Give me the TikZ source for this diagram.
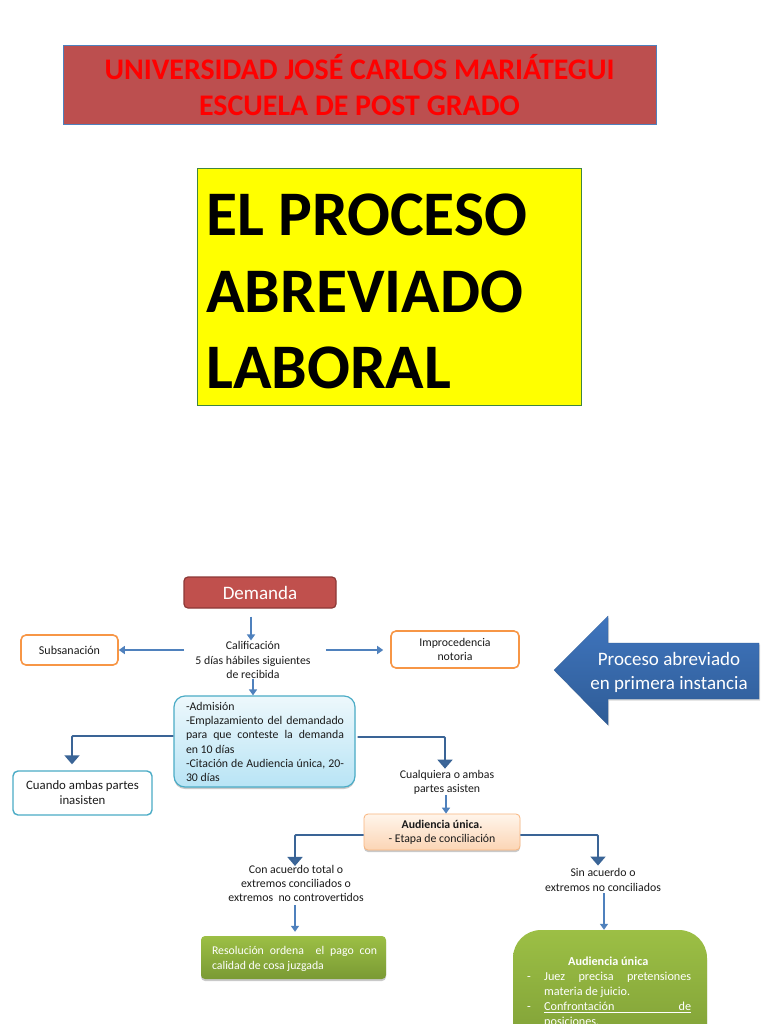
\documentclass[tikz,border=0pt]{standalone}
\usepackage{fontspec}
\setmainfont{Carlito}
\usetikzlibrary{arrows.meta,shadows}
\definecolor{linkblue}{HTML}{4F81BD}
\definecolor{darkblue}{HTML}{3A6496}
\definecolor{bred}{HTML}{C0504D}
\definecolor{tred}{HTML}{BC4F4F}
\definecolor{dred}{HTML}{8C3836}
\definecolor{ora}{HTML}{F79646}
\definecolor{aqua}{HTML}{4BACC6}
\definecolor{txt}{HTML}{1A1A1A}
\definecolor{gtop}{HTML}{9CBF45}
\definecolor{gbot}{HTML}{7A9A34}
\definecolor{pureyellow}{HTML}{FFFF00}
\definecolor{purered}{HTML}{FF0000}
\definecolor{arrtop}{HTML}{3F75BE}
\definecolor{arrbot}{HTML}{2F5C96}
\definecolor{admtop}{HTML}{EDF8FC}
\definecolor{admbot}{HTML}{B8E4F5}
\tikzset{
  x=1pt,y=-1pt,
  plain/.style={inner sep=0pt,align=center,text=txt,font=\fontsize{11.8}{14.2}\selectfont},
  shad/.style={drop shadow={shadow xshift=0pt,shadow yshift=-2pt,opacity=.35,fill=black!60}},
  orabox/.style={plain,draw=ora,line width=1.6pt,rounded corners=5pt,fill=white},
  aquabox/.style={plain,draw=aqua,line width=1.4pt,rounded corners=5pt,fill=white},
  conn/.style={draw=linkblue,line width=2.4pt,-{Triangle[width=8pt,length=6pt]}},
  elbow/.style={draw=darkblue,line width=1.8pt,rounded corners=1pt,-{Triangle[width=15pt,length=9pt,fill=darkblue!90!linkblue]}},
  greenbox/.style={draw=none,top color=gtop,bottom color=gbot,shad},
}
\begin{document}
\begin{tikzpicture}
\useasboundingbox (0,0) rectangle (768,1024);
\clip (0,0) rectangle (768,1024);
\fill[white] (0,0) rectangle (768,1024);

\node[draw=linkblue,line width=.8pt,fill=tred,minimum width=593pt,minimum height=79pt,inner sep=0pt] (univ) at (359.5,84.5) {};
\node[inner sep=0pt,align=center,text=purered,font=\fontsize{29.9}{36}\bfseries\selectfont] (univt) at (359.5,85.5) {UNIVERSIDAD JOSÉ CARLOS MARIÁTEGUI\\ESCUELA DE POST GRADO};

\node[draw=black!45!green!50!gray,line width=.6pt,fill=pureyellow,minimum width=384pt,minimum height=237pt,inner sep=0pt] (ybox) at (389,286.5) {};
\node[anchor=west,inner sep=0pt,align=left,text=black,font=\fontsize{63.5}{76.5}\bfseries\selectfont] (ytext) at (206,291.5) {EL PROCESO\\ABREVIADO\\LABORAL};

% big arrow
\shade[top color=arrtop,bottom color=arrbot,draw=arrbot,line width=.3pt,
  drop shadow={shadow xshift=1pt,shadow yshift=-1.5pt,opacity=.3}]
  (554,670) -- (608,616) -- (608,643) -- (759,643) -- (759,699) -- (608,699) -- (608,725) -- cycle;
\node[inner sep=0pt,align=center,text=white,font=\fontsize{19}{24}\selectfont] (parrow) at (669,672.5) {Proceso abreviado\\en primera instancia};

\node[plain,draw=dred,line width=1.2pt,fill=bred,rounded corners=4pt,minimum width=152pt,minimum height=31pt,text=white,font=\fontsize{19}{22}\selectfont] (dem) at (260,592.5) {Demanda};
\node[plain] (cal) at (253,660) {Calificación\\5 días hábiles siguientes\\de recibida};
\node[orabox,minimum width=97pt,minimum height=30pt,font=\fontsize{12}{14.2}\selectfont] (sub) at (69.5,650) {Subsanación};
\node[orabox,minimum width=128pt,minimum height=37pt] (imp) at (455,649.5) {Improcedencia\\notoria};

\node[plain,draw=aqua,line width=1.2pt,rounded corners=11pt,top color=admtop,bottom color=admbot,shad,minimum width=181pt,minimum height=91pt] (adm) at (264.5,741.5) {};
\node[plain,anchor=center,align=left] (admt) at (265,742) {-Admisión\\
\makebox[158pt][s]{-Emplazamiento del demandado}\\
\makebox[158pt][s]{para que conteste la demanda}\\
en 10 días\\
\makebox[158pt][s]{-Citación de Audiencia única, 20-}\\
30 días};

\node[aquabox,minimum width=139pt,minimum height=44pt,font=\fontsize{12.8}{15}\selectfont] (cua) at (82.5,793) {Cuando ambas partes\\inasisten};
\node[plain] (cual) at (447,782) {Cualquiera o ambas\\partes asisten};

\node[plain,draw=ora!70!white,line width=.8pt,rounded corners=4pt,top color=orange!8!white,bottom color=ora!40!white,shad,minimum width=156pt,minimum height=36pt] (aud) at (442,832) {\textbf{Audiencia única.}\\- Etapa de conciliación};

\node[plain] (con) at (296,883.5) {Con acuerdo total o\\extremos conciliados o\\extremos\ \ no controvertidos};
\node[plain] (sin) at (603,880) {Sin acuerdo o\\extremos no conciliados};

\node[greenbox,rounded corners=4pt,minimum width=185pt,minimum height=43pt,inner sep=0pt] (res) at (293.5,957.5) {};
\node[plain,text=white,align=left] (rest) at (294.5,959) {\makebox[165pt][s]{Resolución ordena\ \ el pago con}\\calidad de cosa juzgada};

\node[greenbox,rounded corners=28pt,minimum width=194pt,minimum height=140pt,inner sep=0pt] (aug) at (610,1000) {};
\node[plain,anchor=north west,align=left,text=white,font=\fontsize{12.2}{15}\selectfont] (augt) at (525,957) {\makebox[166pt][c]{\textbf{Audiencia única}}\\
\makebox[19pt][l]{\,-}\makebox[147pt][s]{Juez precisa pretensiones}\\
\makebox[19pt][l]{}materia de juicio.\\
\makebox[19pt][l]{\,-}\underline{\makebox[147pt][s]{Confrontación de}}\\
\makebox[19pt][l]{}posiciones.};

% connectors
\draw[conn,shorten <=8pt,shorten >=1pt] ([xshift=-9pt]dem.south) -- ([xshift=-2pt]cal.north);
\draw[conn] (cal.west |- sub.east) ++(-11pt,0) -- (sub.east);
\coordinate (impL) at (imp.west |- sub.east);
\draw[conn] ([xshift=15pt]cal.east |- sub.east) -- ([xshift=-7pt]impL);
\draw[conn] (cal.south) -- (adm.north -| cal.south);
\coordinate (admL) at (adm.west |- 0,736);
\coordinate (admR) at (adm.east |- 0,737);
\draw[elbow] (admL) -| ([yshift=6pt]cua.north -| 72,0);
\draw[elbow,shorten <=2pt] (admR) -| ([yshift=1pt]cual.north -| 445,0);
\draw[conn] ([xshift=-1pt,yshift=-1pt]cual.south) -- ([xshift=4pt]aud.north);
\coordinate (audL) at (aud.west |- 0,835);
\coordinate (audR) at (aud.east |- 0,835);
\draw[elbow] (audL) -| ([yshift=-1pt]con.north -| 295,0);
\draw[elbow] (audR) -| ([yshift=3pt]sin.north -| 598,0);
\draw[conn] ([xshift=-1pt,yshift=-3pt]con.south) -- ([xshift=1.5pt,yshift=4pt]res.north);
\draw[conn,shorten <=2pt] ([xshift=1pt]sin.south) -- ([xshift=-6pt]aug.north);
\end{tikzpicture}
\end{document}
